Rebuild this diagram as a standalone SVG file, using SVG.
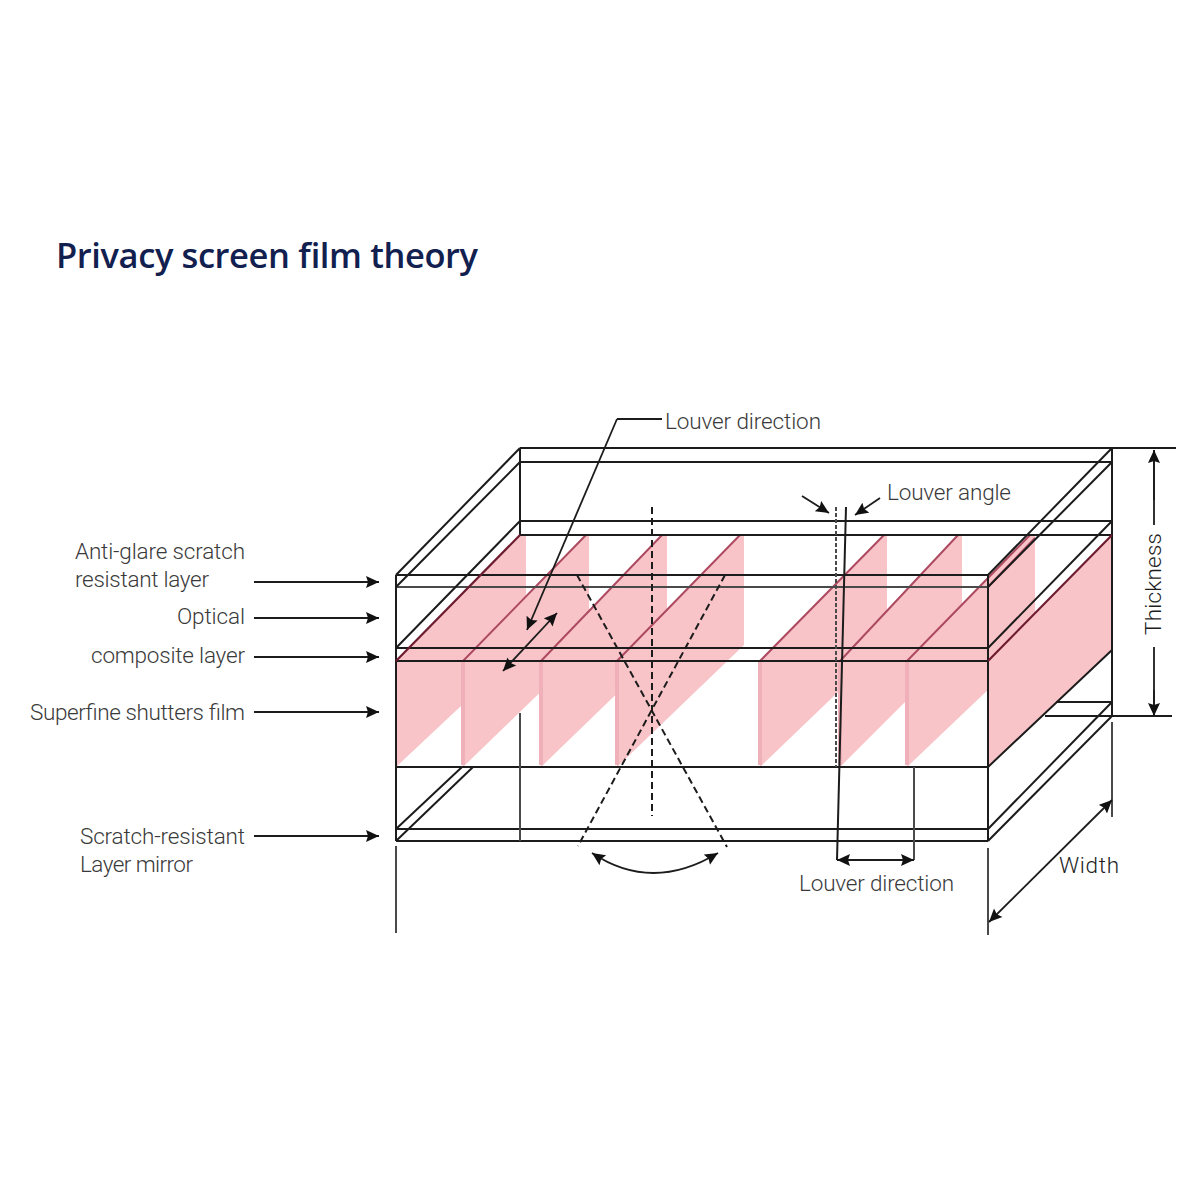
<svg xmlns="http://www.w3.org/2000/svg" width="1200" height="1200" viewBox="0 0 1200 1200">
<style>
.l{fill:none;stroke:#1c1c1c;stroke-width:2}
.g{fill:none;stroke:#4a4a4a;stroke-width:2}
.d{fill:none;stroke:#1c1c1c;stroke-width:2;stroke-dasharray:7 4}
.a{fill:none;stroke:#1c1c1c;stroke-width:1.8}
.aa{marker-start:url(#s);marker-end:url(#e)}
.ae{marker-end:url(#e)}
.p{fill:#f8c4c8;stroke:none}
.pe{fill:none;stroke:#efb0ba;stroke-width:4}
.pt{fill:none;stroke:#ad4a62;stroke-width:2}
.ct{fill:none;stroke:#6e1c30;stroke-width:2.2}
.t{font-family:"Roboto","Liberation Sans",sans-serif;font-weight:300;font-size:22.5px;fill:#3a3a3a}
.k{fill:#1e1e1e}
.title{font-family:"Open Sans","Noto Sans",sans-serif;font-weight:600;font-size:34.5px;fill:#12204f}
</style>
<defs>
<marker id="e" markerWidth="14" markerHeight="14" refX="13" refY="6" orient="auto" markerUnits="userSpaceOnUse"><path d="M0 0L13 6L0 12L2 6Z" fill="#111"/></marker>
<marker id="s" markerWidth="14" markerHeight="14" refX="0" refY="6" orient="auto" markerUnits="userSpaceOnUse"><path d="M13 0L0 6L13 12L11 6Z" fill="#111"/></marker>
</defs>
<rect width="1200" height="1200" fill="#fff"/>
<text id="title" class="title" x="56" y="268" textLength="422" lengthAdjust="spacing">Privacy screen film theory</text>

<g id="louver-panels">
<polygon class="p" points="396,661 520,535 526,535 526,645 396,767"/>
<polygon class="p" points="463,661 586,535 589,535 589,645 463,767"/>
<polygon class="p" points="541,661 662,535 667,535 667,645 541,767"/>
<polygon class="p" points="617,661 740,535 744,535 744,645 617,767"/>
<polygon class="p" points="760,661 884,535 887,535 887,645 760,767"/>
<polygon class="p" points="840,661 958,535 962,535 962,645 840,767"/>
<polygon class="p" points="907,661 1030,535 1035,535 1035,645 907,767"/>
<polygon class="p" points="988,661 1112,535 1112,650 988,767"/>
<path class="pe" d="M463 661V765M541 661V765M617 661V765M760 661V765M840 661V765M907 661V765"/>
<path class="pt" d="M463 661L586 535M541 661L662 535M617 661L740 535M760 661L884 535M840 661L958 535M907 661L1030 535M988 587L1035 538"/>
</g>

<g id="box">
<path class="l" d="M520 448H1112V716M520 462H1112M520 521H1112M520 535H1112M520 448V535"/>
<path class="l" d="M396 575H988M396 648H988M396 661H988M396 767H988M396 829H988M396 841H988"/>
<path class="g" d="M396 587H988"/>
<path class="l" d="M396 575V841M988 575V841"/>
<path class="l" d="M396 575L520 448M396 587L520 462M396 648L520 521"/>
<path class="ct" d="M396 661L520 535M988 661L1112 535"/>
<path class="l" d="M988 575L1112 448M988 587L1112 462M988 648L1112 521M988 767L1112 650"/>
<path class="l" d="M988 829L1112 702M988 841L1112 716M396 829L462 767M396 841L473 767"/>
<path class="l" d="M1056 702H1112M1045 716H1172M1112 448H1176"/>
<path class="g" d="M396 846V933M988 848V935M1112 722V817M520 713V841"/>
</g>

<g id="connectors">
<path class="d" d="M577 575L727 847M725 575L578 846M652 507V816"/>
<path class="a aa" d="M592 853Q652 893 718 853"/>
<path class="a" d="M662 419H617"/>
<path class="a ae" d="M617 419L527 630"/>
<path class="a aa" d="M503 671L557 613"/>
<path class="a ae" d="M802 496L829 513"/>
<path class="a ae" d="M880 498L855 515"/>
<path class="g" d="M836 507V767" stroke-dasharray="4 2"/>
<path class="l" d="M846 507L837 860"/>
<path class="g" d="M914 767V860"/>
<path class="a aa" d="M837 860H914"/>
<path class="a aa" d="M989 922L1112 800"/>
<path class="a" d="M1154 525V450M1154 647V716"/>
<path class="a" d="M1154 500V450" marker-end="url(#e)"/>
<path class="a" d="M1154 690V716" marker-end="url(#e)"/>
<path class="a ae" d="M254 582H379"/>
<path class="a ae" d="M254 618H379"/>
<path class="a ae" d="M254 657H379"/>
<path class="a ae" d="M254 712H379"/>
<path class="a ae" d="M254 836H379"/>
</g>

<g id="labels">
<text class="t" x="75" y="559" textLength="170">Anti-glare scratch</text>
<text class="t" x="75" y="587" textLength="134">resistant layer</text>
<text class="t" x="177" y="624" textLength="68">Optical</text>
<text class="t" x="91" y="663" textLength="154">composite layer</text>
<text class="t" x="30" y="720" textLength="215">Superfine shutters film</text>
<text class="t" x="80" y="844" textLength="165">Scratch-resistant</text>
<text class="t" x="80" y="872" textLength="113">Layer mirror</text>
<text class="t" x="665" y="429" textLength="156">Louver direction</text>
<text class="t" x="887" y="500" textLength="124">Louver angle</text>
<text class="t" x="799" y="891" textLength="155">Louver direction</text>
<text class="t k" x="1059" y="873" textLength="60">Width</text>
<text class="t k" transform="translate(1161 635) rotate(-90)" textLength="102">Thickness</text>
</g>
</svg>
